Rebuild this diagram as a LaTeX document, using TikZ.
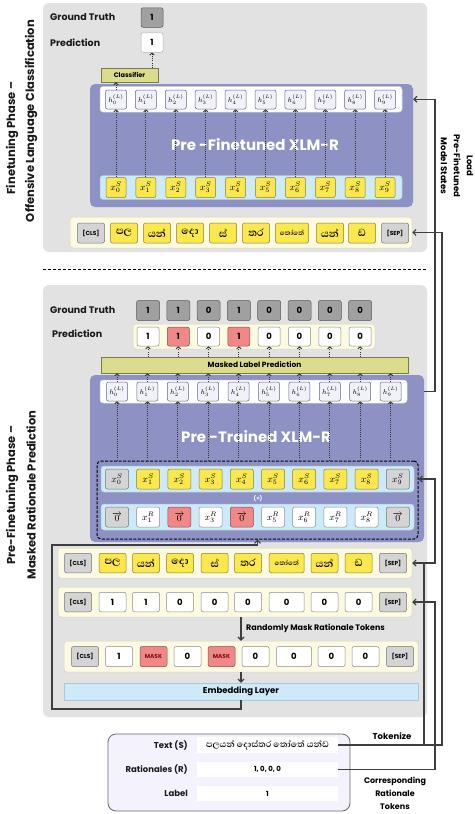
\RequirePackage{fix-cm}
\documentclass[tikz,border=0pt]{standalone}
\usepackage[no-math]{fontspec}
\setmainfont{Poppins}
\newfontfamily\sinfont[Script=Sinhala]{Abhaya Libre}
\usetikzlibrary{arrows.meta}

\definecolor{panelgray}{RGB}{226,226,226}
\definecolor{xlmpurple}{RGB}{142,145,196}
\definecolor{stripblue}{RGB}{205,234,250}
\definecolor{tokyellow}{RGB}{251,231,78}
\definecolor{tokred}{RGB}{241,135,135}
\definecolor{tokgray}{RGB}{212,212,212}
\definecolor{gtgray}{RGB}{160,160,160}
\definecolor{cream}{RGB}{252,250,226}
\definecolor{olive}{RGB}{220,221,140}
\definecolor{lavender}{RGB}{244,243,253}
\definecolor{hfill}{RGB}{241,241,250}
\definecolor{linegray}{RGB}{62,62,62}
\definecolor{maskred}{RGB}{120,20,20}

\newcommand\spectok[1]{{\fontsize{5.8}{6}\selectfont\bfseries #1}}
\newcommand\numtxt[1]{{\fontsize{8.5}{9}\selectfont\bfseries #1}}
\newcommand\masktxt{{\fontsize{5.8}{6}\selectfont\bfseries\color{maskred}MASK}}
\newcommand\sintok[1]{{\sinfont\fontsize{13}{13}\selectfont\bfseries #1}}
\newcommand\sinsmall[1]{{\sinfont\fontsize{8.5}{9}\selectfont\bfseries #1}}

\tikzset{
  panel/.style={fill=panelgray, rounded corners=6pt, inner sep=0pt},
  xlm/.style={fill=xlmpurple, rounded corners=5pt, inner sep=0pt},
  strip/.style={fill=#1, draw=#1!85!black, rounded corners=3pt, inner sep=0pt, line width=0.5pt},
  tok/.style={fill=#1, draw=#1!55!black, rounded corners=2pt, inner sep=0pt,
    minimum width=27pt, minimum height=19.5pt, line width=0.5pt},
  tok/.default=white,
  htok/.style={tok=hfill, draw=xlmpurple!70!black, minimum width=21pt, minimum height=19pt,
    font=\fontsize{7}{7}\selectfont},
  xtok/.style={tok=#1, minimum width=23pt, minimum height=20pt, font=\fontsize{9.5}{10}\selectfont},
  lbl/.style={font=\fontsize{9.5}{11}\selectfont\bfseries, text=black!90, inner sep=0pt},
  lbltwo/.style={font=\fontsize{8.5}{9}\selectfont\bfseries, text=black!90, inner sep=0pt},
  side/.style={font=\fontsize{11.5}{13}\selectfont\bfseries, text=black!90, inner sep=0pt},
  title/.style={font=\fontsize{15}{17}\selectfont\bfseries, text=white},
  field/.style={fill=white, minimum width=141pt, minimum height=15pt, inner sep=0pt,
    font=\fontsize{7}{8}\selectfont\bfseries},
  dotarr/.style={draw=black!80, line width=0.9pt, dash pattern=on 1pt off 1.1pt,
    -{Straight Barb[length=2pt,width=4.5pt]}},
  arr/.style={draw=linegray, line width=1.1pt, -{Straight Barb[length=3pt,width=6pt]}},
}

\begin{document}
\begin{tikzpicture}[x=1pt,y=-1pt]
\useasboundingbox (0,0) rectangle (474,814);

% finetuning phase
\node[panel, minimum width=384pt, minimum height=249pt] (panelT) at (235,127.5) {};
\node[side, rotate=90] (phaseT) at (12,138) {Finetuning Phase –};
\node[side, rotate=90] (taskT) at (31,121) {Offensive Language Classification};

\node[lbl, anchor=west] (gtlabT) at (50,17.5) {Ground Truth};
\node[tok=gtgray, minimum width=22pt] (gtT) at (152,17.5) {\numtxt{1}};
\node[lbl, anchor=west] (predlabT) at (50,42.5) {Prediction};
\node[tok, minimum width=22pt, draw=black!30] (predT) at (152,42.5) {\numtxt{1}};
\node[tok=olive, minimum width=57pt, minimum height=14pt, rounded corners=0pt,
  font=\fontsize{6.5}{7}\selectfont\bfseries] (clsfT) at (129.5,75) {Classifier};

\node[xlm, minimum width=323pt, minimum height=123pt] (xlmT) at (251.5,145.5) {};
\node[strip=white, minimum width=302pt, minimum height=25.5pt] (hstripT) at (251,99.25) {};
\node[strip=stripblue, minimum width=302pt, minimum height=24pt] (xstripT) at (251,187.5) {};
\node[title] (nameT) at (255,145) {Pre -Finetuned XLM-R};
\foreach \i in {0,...,9}{
  \node[htok] (hT\i) at ({116+29.9*\i},99.5) {$h_{\i}^{(L)}$};
  \node[xtok=tokyellow, minimum width=20pt] (xT\i) at ({116+29.9*\i},187.5) {$x_{\i}^{S}$};
  \draw[dotarr] (xT\i.north) -- (hT\i.south);
}
\draw[dotarr] (hT0.north) -- (hT0.north |- clsfT.south);
\draw[dotarr] (predT.south |- clsfT.north) -- (predT.south);

\node[strip=cream, minimum width=342pt, minimum height=31pt] (sstripT) at (241,232.5) {};
\foreach \x/\w/\f/\t [count=\i from 0] in {91/27/tokgray/\spectok{[CLS]}, 124/27/tokyellow/\sintok{පල},
  157/27/tokyellow/\sintok{යන්}, 190/27/tokyellow/\sintok{දො}, 223/27/tokyellow/\sintok{ස්},
  256/27/tokyellow/\sintok{තර}, 292/33/tokyellow/\sinsmall{තෝතේ}, 330/27/tokyellow/\sintok{යන්},
  362/27/tokyellow/\sintok{ඩ}, 395/27/tokgray/\spectok{[SEP]}}
  \node[tok=\f, minimum width=\w pt, minimum height=20pt] (sT\i) at (\x,233) {\t};

\draw[line width=0.9pt, dash pattern=on 3pt off 2pt] (43,269) -- (427,269);

% pre-finetuning phase
\node[panel, minimum width=384pt, minimum height=432pt] (panelB) at (235,501) {};
\node[side, rotate=90] (phaseB) at (12,495) {Pre-Finetuning Phase –};
\node[side, rotate=90] (taskB) at (31,495) {Masked Rationale Prediction};

\node[lbl, anchor=west] (gtlabB) at (50,310.5) {Ground Truth};
\node[lbl, anchor=west] (predlabB) at (52,333.5) {Prediction};
\node[strip=cream, minimum width=242pt, minimum height=25pt] (pstripB) at (254,336.5) {};
\node[tok=olive, minimum width=307pt, minimum height=16pt, rounded corners=0pt,
  font=\fontsize{7.5}{8}\selectfont\bfseries] (mlpB) at (254.5,365) {Masked Label Prediction};
\foreach \g/\p/\f [count=\i from 0] in {1/1/white, 1/1/tokred, 0/0/white, 1/1/tokred,
  0/0/white, 0/0/white, 0/0/white, 0/0/white}{
  \node[tok=gtgray, minimum width=23pt, minimum height=20pt] (gtB\i) at ({148+30.3*\i},310.5) {\numtxt{\g}};
  \node[tok=\f, minimum width=22pt, minimum height=19pt] (predB\i) at ({148+30.3*\i},336.5) {\numtxt{\p}};
  \draw[dotarr] (predB\i.south |- mlpB.north) -- (predB\i.south);
}

\node[xlm, minimum width=334pt, minimum height=167pt] (xlmB) at (257,458.5) {};
\node[strip=white, minimum width=307pt, minimum height=23pt] (hstripB) at (253.5,391.5) {};
\node[title] (nameB) at (256,437) {Pre -Trained XLM-R};
\node[draw, line width=1pt, dash pattern=on 3pt off 1.5pt, rounded corners=4pt,
  minimum width=321pt, minimum height=78pt, inner sep=0pt] (dashB) at (257.5,500) {};
\node[strip=stripblue, minimum width=313pt, minimum height=26pt] (xSstripB) at (257.5,479) {};
\node[strip=stripblue, minimum width=313pt, minimum height=26pt] (xRstripB) at (257.5,517) {};
\node[font=\fontsize{5.5}{6}\selectfont\bfseries, text=white, inner sep=0pt] (plusB) at (258,499) {(+)};
\foreach \i in {0,...,9}{
  \node[htok] (hB\i) at ({117+30.4*\i},391.5) {$h_{\i}^{(L)}$};
  \draw[dotarr] (hB\i.north) -- (hB\i.north |- mlpB.south);
  \draw[dotarr] (hB\i.south |- dashB.north) -- (hB\i.south);
}
\foreach \f [count=\i from 0] in {tokgray, tokyellow, tokyellow, tokyellow, tokyellow,
  tokyellow, tokyellow, tokyellow, tokyellow, tokgray}
  \node[xtok=\f] (xSB\i) at ({117+31.2*\i},479) {$x_{\i}^{S}$};
\foreach \f/\t [count=\i from 0] in {tokgray/{$\overrightarrow{0}$}, white/{$x_1^R$},
  tokred/{$\overrightarrow{0}$}, white/{$x_3^R$}, tokred/{$\overrightarrow{0}$}, white/{$x_5^R$},
  white/{$x_6^R$}, white/{$x_7^R$}, white/{$x_8^R$}, tokgray/{$\overrightarrow{0}$}}
  \node[xtok=\f] (xRB\i) at ({117+31.2*\i},517) {\t};

\node[strip=cream, minimum width=354pt, minimum height=30pt] (sstripB) at (235,563) {};
\foreach \x/\w/\f/\t [count=\i from 0] in {78/27/tokgray/\spectok{[CLS]}, 112.5/27/tokyellow/\sintok{පල},
  146/27/tokyellow/\sintok{යන්}, 180/27/tokyellow/\sintok{දො}, 214.7/27/tokyellow/\sintok{ස්},
  248/27/tokyellow/\sintok{තර}, 286.7/35/tokyellow/\sinsmall{තෝතේ}, 324.5/27/tokyellow/\sintok{යන්},
  358.7/27/tokyellow/\sintok{ඩ}, 393/27/tokgray/\spectok{[SEP]}}
  \node[tok=\f, minimum width=\w pt] (sB\i) at (\x,563) {\t};

\node[strip=cream, minimum width=354pt, minimum height=30pt] (rstripB) at (235,602) {};
\foreach \x/\w/\f/\t [count=\i from 0] in {78/27/tokgray/\spectok{[CLS]}, 112.5/27/white/\numtxt{1},
  146/27/white/\numtxt{1}, 180/27/white/\numtxt{0}, 214.7/27/white/\numtxt{0},
  248/27/white/\numtxt{0}, 286.7/35/white/\numtxt{0}, 324.5/27/white/\numtxt{0},
  358.7/27/white/\numtxt{0}, 393/27/tokgray/\spectok{[SEP]}}
  \node[tok=\f, minimum width=\w pt] (rB\i) at (\x,602) {\t};

\node[anchor=west, font=\fontsize{8}{9}\selectfont\bfseries, inner sep=0pt] (masklab) at (246,628)
  {Randomly Mask Rationale Tokens};

\node[strip=cream, minimum width=354pt, minimum height=31pt] (mstripB) at (241,656.5) {};
\foreach \x/\w/\f/\t [count=\i from 0] in {85/27/tokgray/\spectok{[CLS]}, 119/27/white/\numtxt{1},
  153.5/27/tokred/\masktxt, 187.5/27/white/\numtxt{0}, 221.5/27/tokred/\masktxt,
  255.5/27/white/\numtxt{0}, 294/35/white/\numtxt{0}, 331.5/27/white/\numtxt{0},
  365.5/27/white/\numtxt{0}, 400/27/tokgray/\spectok{[SEP]}}
  \node[tok=\f, minimum width=\w pt, minimum height=20pt] (mB\i) at (\x,656.5) {\t};

\node[strip=stripblue, minimum width=354pt, minimum height=17pt, rounded corners=0pt,
  font=\fontsize{8.5}{9}\selectfont\bfseries] (embB) at (241,691.5) {Embedding Layer};

\draw[arr] (rstripB.south -| embB) -- (mstripB.north -| embB);
\draw[arr] (mstripB.south -| embB) -- (embB.north);
\coordinate (loopBL) at (52,709);
\coordinate (loopTL) at (52,545);
\draw[arr] (embB.south) |- (loopBL) -- (loopTL) -| (dashB.south);

% input example
\node[draw=black!60, fill=lavender, rounded corners=8pt, line width=0.8pt,
  minimum width=242pt, minimum height=77pt, inner sep=0pt] (dataB) at (229,772.5) {};
\node[lbltwo, anchor=east] (txtlab) at (188,745.5) {Text (S)};
\node[lbltwo, anchor=east] (ratlab) at (188,769.5) {Rationales (R)};
\node[lbltwo, anchor=east] (lablab) at (188,793.5) {Label};
\node[field, minimum height=16pt] (txtfield) at (267.5,745)
  {\sinfont\fontsize{11}{11}\selectfont\bfseries පලයන් දොස්තර තෝතේ යන්ඩ};
\node[field] (ratfield) at (267.5,769.5) {1, 0, 0, 0};
\node[field] (labfield) at (267.5,793.5) {1};

\node[font=\fontsize{8.5}{9}\selectfont\bfseries] (toklab) at (392,736) {Tokenize};
\node[font=\fontsize{8}{13}\selectfont\bfseries, align=center] (corrlab) at (395,793)
  {Corresponding\\Rationale\\Tokens};
\node[font=\fontsize{8.5}{13}\selectfont\bfseries, align=center, rotate=-90] (loadlab) at (457,166)
  {Load\\Pre-Finetuned\\Model States};

% connectors on the right
\coordinate (busS) at (424,0);
\coordinate (busM) at (435,0);
\coordinate (busT) at (442,0);
\draw[arr] (xlmB.east |- hstripB) -- (busM |- hstripB) -- (busM |- hstripT) -- (xlmT.east |- hstripT);
\draw[arr] (txtfield.east) -- (busT |- txtfield) -- (busT |- sstripT) -- (sstripT.east);
\draw[arr] (busS |- txtfield) -- (busS |- sstripB) -- (sstripB.east);
\draw[arr] (busS |- sstripB) -- (busM |- sstripB) -- (busM |- xSstripB) -- (dashB.east |- xSstripB);
\draw[arr] (ratfield.east) -- (busM |- ratfield) -- (busM |- rstripB) -- (rstripB.east);
\end{tikzpicture}
\end{document}
